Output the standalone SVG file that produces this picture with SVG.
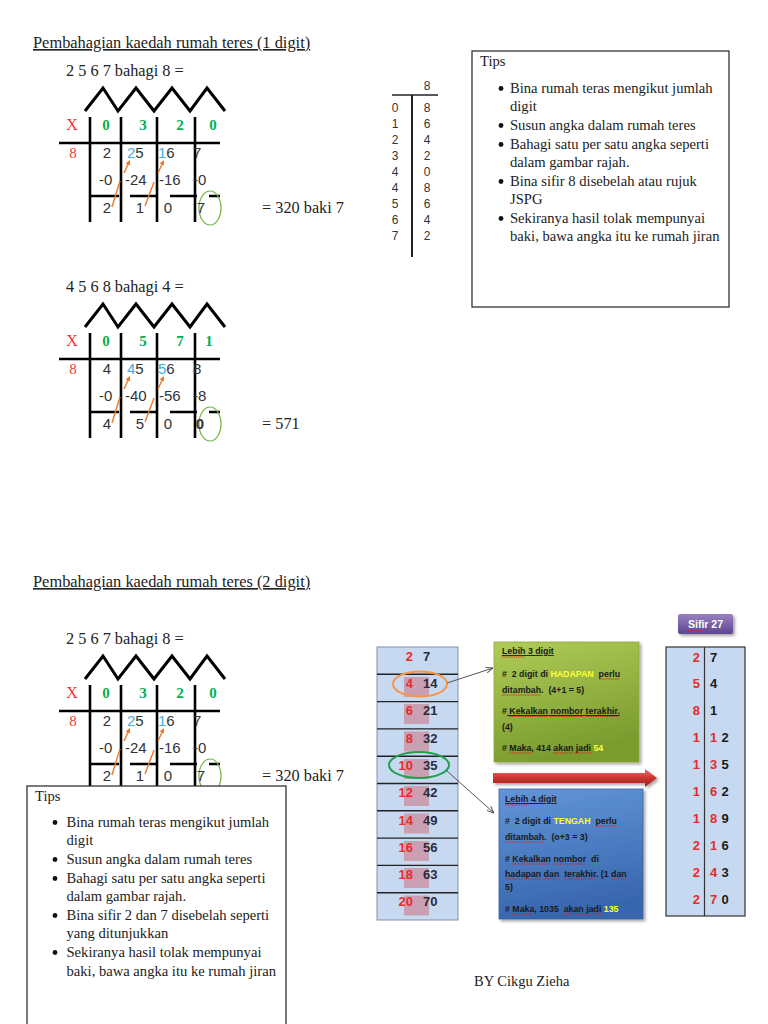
<svg xmlns="http://www.w3.org/2000/svg" width="768" height="1024" viewBox="0 0 768 1024">
<defs>
<style>
.sf{font-family:"Liberation Serif","Times New Roman",serif}
.t15{font-size:16.3px;fill:#222}
.ttl{font-size:16.4px;fill:#222}
.tip{font-family:"Liberation Serif","Times New Roman",serif;font-size:14.6px;fill:#222}
.g{font-family:"Liberation Serif","Times New Roman",serif;fill:#00B050;font-weight:bold;font-size:15px;text-anchor:middle}
.r{fill:#E8383D}
.c{fill:#3DAEE9}
.n{font-family:"Liberation Sans",Arial,sans-serif;font-size:15px;fill:#333}
.bk{stroke:#000;stroke-width:2.6;fill:none}
.zz{stroke:#000;stroke-width:3;fill:none;stroke-linejoin:miter}
.oa{stroke:#F07828;stroke-width:1.4;fill:none}
.box{fill:#fff;stroke:#333;stroke-width:1.3}
.s8{font-family:"Liberation Sans",Arial,sans-serif;font-size:12px;fill:#333;text-anchor:middle}
.tb{font-family:"Liberation Sans",Arial,sans-serif;font-size:13px;font-weight:bold}
.bx{font-family:"Liberation Sans",Arial,sans-serif;font-size:8.8px;font-weight:bold;fill:#1a1a1a;white-space:pre}
.y{fill:#FFFF33}
.sq{stroke:#E02020;stroke-width:0.9;fill:none;stroke-dasharray:1.5 0.8}
.sqg{stroke:#2EA84A;stroke-width:0.9;fill:none;stroke-dasharray:1.5 0.8}
.rowl{stroke:#222;stroke-width:1.4}
.bul{fill:#111}
</style>
<marker id="oh" viewBox="0 0 10 10" refX="8" refY="5" markerWidth="5" markerHeight="5" markerUnits="userSpaceOnUse" orient="auto"><path d="M0,0 L10,5 L0,10 z" fill="#F07828"/></marker>
<marker id="gh" viewBox="0 0 10 10" refX="10" refY="5" markerWidth="7" markerHeight="7" markerUnits="userSpaceOnUse" orient="auto"><path d="M0,1 L10,5 L0,9" fill="none" stroke="#555" stroke-width="1.4"/></marker>
<linearGradient id="gg" x1="0" y1="0" x2="0.3" y2="1"><stop offset="0" stop-color="#B0CC58"/><stop offset="1" stop-color="#7A9C2E"/></linearGradient>
<linearGradient id="bg" x1="0" y1="0" x2="0.2" y2="1"><stop offset="0" stop-color="#6296D8"/><stop offset="1" stop-color="#3866AE"/></linearGradient>
<linearGradient id="rg" x1="0" y1="0" x2="0" y2="1"><stop offset="0" stop-color="#E8706A"/><stop offset="0.5" stop-color="#C8352E"/><stop offset="1" stop-color="#A02420"/></linearGradient>
<linearGradient id="pg" x1="0" y1="0" x2="0" y2="1"><stop offset="0" stop-color="#9A82C0"/><stop offset="1" stop-color="#5C4590"/></linearGradient>
<filter id="sh" x="-10%" y="-10%" width="130%" height="130%"><feDropShadow dx="2" dy="2" stdDeviation="1.5" flood-color="#000" flood-opacity="0.35"/></filter>
<g id="frame">
<polyline class="zz" points="85,111 103,88 118,111 136,88 154,111 172,88 190,111 207,88 225,111"/>
<path class="bk" d="M90,117V222M121,117V222M157,117V222M195,117V222M59,143H220M90,196H119M130,196H158M170,196H197M209,196H220"/>
<path class="oa" d="M112,207L120,181"/><path class="oa" d="M124,173L129.5,161" marker-end="url(#oh)"/>
<path class="oa" d="M145,206L154,182"/><path class="oa" d="M158,173L163.5,161" marker-end="url(#oh)"/>
<ellipse cx="210" cy="208" rx="11" ry="17" fill="none" stroke="#6DB33F" stroke-width="1.2"/>
</g>
</defs>
<rect width="768" height="1024" fill="#fff"/>

<!-- Section 1 title -->
<text class="sf ttl" x="33" y="48" text-decoration="underline">Pembahagian kaedah rumah teres (1 digit)</text>

<!-- Division 1 -->
<g id="rumah1">
<text class="sf t15" x="66" y="76">2 5 6 7 bahagi 8 =</text>
<use href="#frame"/>
<text class="sf r" font-size="16" x="72" y="130" text-anchor="middle">X</text>
<text class="g" x="106" y="130">0</text><text class="g" x="143" y="130">3</text><text class="g" x="180" y="130">2</text><text class="g" x="213" y="130">0</text>
<text class="sf r" font-size="15" x="73" y="158" text-anchor="middle">8</text>
<text class="n" x="107" y="158" text-anchor="middle">2</text>
<text class="n" x="127" y="158"><tspan class="c">2</tspan>5</text>
<text class="n" x="158" y="158"><tspan class="c">1</tspan>6</text>
<text class="n" x="193" y="158">7</text>
<text class="n" x="99" y="185">-0</text><text class="n" x="125" y="185">-24</text><text class="n" x="159" y="185">-16</text><text class="n" x="193" y="185">-0</text>
<text class="n c" x="107" y="213" text-anchor="middle">2</text><text class="n c" x="140" y="213" text-anchor="middle">1</text><text class="n c" x="168" y="213" text-anchor="middle">0</text><text class="n c" x="201" y="213" text-anchor="middle">7</text>
<text class="sf t15" x="262" y="213">= 320 baki 7</text>
</g>

<!-- Division 2 -->
<g id="rumah2" transform="translate(0,216)">
<text class="sf t15" x="66" y="76">4 5 6 8 bahagi 4 =</text>
<use href="#frame"/>
<text class="sf r" font-size="16" x="72" y="130" text-anchor="middle">X</text>
<text class="g" x="106" y="130">0</text><text class="g" x="143" y="130">5</text><text class="g" x="180" y="130">7</text><text class="g" x="209" y="130">1</text>
<text class="sf r" font-size="15" x="73" y="158" text-anchor="middle">8</text>
<text class="n" x="107" y="158" text-anchor="middle">4</text>
<text class="n" x="127" y="158"><tspan class="c">4</tspan>5</text>
<text class="n" x="158" y="158"><tspan class="c">5</tspan>6</text>
<text class="n" x="193" y="158">8</text>
<text class="n" x="99" y="185">-0</text><text class="n" x="125" y="185">-40</text><text class="n" x="159" y="185">-56</text><text class="n" x="193" y="185">-8</text>
<text class="n c" x="107" y="213" text-anchor="middle">4</text><text class="n c" x="140" y="213" text-anchor="middle">5</text><text class="n c" x="168" y="213" text-anchor="middle">0</text><text class="n c" x="200" y="213" text-anchor="middle" font-weight="bold">0</text>
<text class="sf t15" x="262" y="213">= 571</text>
</g>

<!-- Sifir 8 -->
<g id="sifir8">
<path d="M392,95H438" stroke="#222" stroke-width="1.5"/>
<path d="M412,95V257" stroke="#222" stroke-width="2"/>
<text class="s8" x="427" y="90">8</text>
<text class="s8" x="395" y="112">0</text><text class="s8" x="427" y="112">8</text>
<text class="s8" x="395" y="128">1</text><text class="s8" x="427" y="128">6</text>
<text class="s8" x="395" y="144">2</text><text class="s8" x="427" y="144">4</text>
<text class="s8" x="395" y="160">3</text><text class="s8" x="427" y="160">2</text>
<text class="s8" x="395" y="176">4</text><text class="s8" x="427" y="176">0</text>
<text class="s8" x="395" y="192">4</text><text class="s8" x="427" y="192">8</text>
<text class="s8" x="395" y="208">5</text><text class="s8" x="427" y="208">6</text>
<text class="s8" x="395" y="224">6</text><text class="s8" x="427" y="224">4</text>
<text class="s8" x="395" y="240">7</text><text class="s8" x="427" y="240">2</text>
</g>

<!-- Tips 1 -->
<g id="tips1">
<rect class="box" x="472" y="51" width="257" height="256"/>
<text class="tip" x="480" y="66">Tips</text>
<circle class="bul" cx="501" cy="88.5" r="2.4"/><text class="tip" x="510" y="93">Bina rumah teras mengikut jumlah</text>
<text class="tip" x="510" y="111">digit</text>
<circle class="bul" cx="501" cy="125.5" r="2.4"/><text class="tip" x="510" y="130">Susun angka dalam rumah teres</text>
<circle class="bul" cx="501" cy="144.5" r="2.4"/><text class="tip" x="510" y="149">Bahagi satu per satu angka seperti</text>
<text class="tip" x="510" y="167">dalam gambar rajah.</text>
<circle class="bul" cx="501" cy="181.5" r="2.4"/><text class="tip" x="510" y="186">Bina sifir 8 disebelah atau rujuk</text>
<text class="tip" x="510" y="204">JSPG</text>
<circle class="bul" cx="501" cy="218.5" r="2.4"/><text class="tip" x="510" y="223">Sekiranya hasil tolak mempunyai</text>
<text class="tip" x="510" y="241">baki, bawa angka itu ke rumah jiran</text>
</g>

<!-- Section 2 title -->
<text class="sf ttl" x="33" y="587" text-decoration="underline">Pembahagian kaedah rumah teres (2 digit)</text>
<use id="rumah3" href="#rumah1" transform="translate(0,568)"/>

<!-- Tips 2 -->
<g id="tips2">
<rect class="box" x="27" y="786" width="259" height="250"/>
<text class="tip" x="35" y="801">Tips</text>
<circle class="bul" cx="55" cy="822.5" r="2.4"/><text class="tip" x="66.5" y="827">Bina rumah teras mengikut jumlah</text>
<text class="tip" x="66.5" y="845">digit</text>
<circle class="bul" cx="55" cy="859.5" r="2.4"/><text class="tip" x="66.5" y="864">Susun angka dalam rumah teres</text>
<circle class="bul" cx="55" cy="878.5" r="2.4"/><text class="tip" x="66.5" y="883">Bahagi satu per satu angka seperti</text>
<text class="tip" x="66.5" y="901">dalam gambar rajah.</text>
<circle class="bul" cx="55" cy="915.5" r="2.4"/><text class="tip" x="66.5" y="920">Bina sifir 2 dan 7 disebelah seperti</text>
<text class="tip" x="66.5" y="938">yang ditunjukkan</text>
<circle class="bul" cx="55" cy="952.5" r="2.4"/><text class="tip" x="66.5" y="957">Sekiranya hasil tolak mempunyai</text>
<text class="tip" x="66.5" y="976">baki, bawa angka itu ke rumah jiran</text>
</g>

<!-- Sifir 2 / 7 table -->
<g id="table27">
<rect x="377" y="647" width="81" height="273" fill="#C6D9F1" stroke="#8093AD" stroke-width="1"/>
<g fill="#C9A0B2">
<rect x="404" y="677" width="25" height="20"/><rect x="404" y="704" width="25" height="20"/><rect x="404" y="731.5" width="25" height="20"/>
<rect x="404" y="759" width="25" height="20"/><rect x="404" y="786" width="25" height="20"/><rect x="404" y="813.5" width="25" height="20"/>
<rect x="404" y="841" width="25" height="20"/><rect x="404" y="868" width="25" height="20"/><rect x="404" y="895.5" width="25" height="20"/>
</g>
<path class="rowl" d="M377,674.3H458M377,701.6H458M377,728.9H458M377,756.2H458M377,783.5H458M377,810.8H458M377,838.1H458M377,865.4H458M377,892.7H458"/>
<g class="tb" fill="#E52B2B" text-anchor="end">
<text x="413" y="661">2</text><text x="413" y="688">4</text><text x="413" y="715">6</text><text x="413" y="742.5">8</text><text x="413" y="770">10</text>
<text x="413" y="797">12</text><text x="413" y="824.5">14</text><text x="413" y="852">16</text><text x="413" y="879">18</text><text x="413" y="906">20</text>
</g>
<g class="tb" fill="#2a2a3a">
<text x="423" y="661">7</text><text x="423" y="688">14</text><text x="423" y="715">21</text><text x="423" y="742.5">32</text><text x="423" y="770">35</text>
<text x="423" y="797">42</text><text x="423" y="824.5">49</text><text x="423" y="852">56</text><text x="423" y="879">63</text><text x="423" y="906">70</text>
</g>
<ellipse cx="420" cy="684" rx="27" ry="12.5" fill="none" stroke="#F79646" stroke-width="2"/>
<ellipse cx="419" cy="765" rx="30" ry="13" fill="none" stroke="#1EA050" stroke-width="2"/>
</g>

<!-- Green box -->
<g id="box3digit">
<rect x="494" y="642" width="145" height="120" fill="url(#gg)" stroke="#8CA83C" stroke-width="0.8" filter="url(#sh)"/>
<text class="bx" x="502" y="654" text-decoration="underline">Lebih 3 digit</text>
<text class="bx" x="502" y="677">#  2 digit di <tspan class="y">HADAPAN</tspan>  perlu</text>
<text class="bx" x="502" y="693">ditambah.  (4+1 = 5)</text>
<text class="bx" x="502" y="714">#<tspan text-decoration="underline"> Kekalkan nombor terakhir.</tspan></text>
<text class="bx" x="502" y="730">(4)</text>
<text class="bx" x="502" y="751"># Maka, 414 akan jadi <tspan class="y">54</tspan></text>
<path class="sq" d="M502,657H525.5M599,679H620M502,695H541M509,716.5H548M550,716.5H583M586,716.5H618M509,753H531M553,753H573M576,753H591"/>
</g>

<!-- Blue box -->
<g id="box4digit">
<rect x="499" y="789" width="144" height="130" fill="url(#bg)" stroke="#3A64A0" stroke-width="0.8" filter="url(#sh)"/>
<text class="bx" x="505" y="802" text-decoration="underline">Lebih 4 digit</text>
<text class="bx" x="505" y="824">#  2 digit di <tspan class="y">TENGAH</tspan>  perlu</text>
<text class="bx" x="505" y="840">ditambah.  (o+3 = 3)</text>
<text class="bx" x="505" y="862"># Kekalkan nombor  di</text>
<text class="bx" x="505" y="877">hadapan dan  terakhir. (1 dan</text>
<text class="bx" x="505" y="890">5)</text>
<text class="bx" x="505" y="912"># Maka, 1035  akan jadi <tspan class="y">135</tspan></text>
<path class="sq" d="M505,805H528.5M595.5,826H617M505,842H544M512,864H551M553,864H586M505,879H541M543.5,879H559M564,879H596M611.5,879H627M512,914H534M563.5,914H584M586,914H601"/>
<path class="sqg" d="M510,826H517M591,864H599"/>
</g>

<!-- Sifir 27 -->
<g id="sifir27">
<rect x="678" y="614" width="55" height="20" rx="2" fill="url(#pg)" filter="url(#sh)"/>
<text x="705.5" y="628" text-anchor="middle" font-family="Liberation Sans, Arial, sans-serif" font-size="10.5" font-weight="bold" fill="#fff">Sifir 27</text>
<path class="sq" d="M688,630.5H702"/>
<rect x="666" y="647" width="79" height="269" fill="#C6D9F1" stroke="#333" stroke-width="1.2"/>
<path d="M704.5,647V916" stroke="#333" stroke-width="1.2"/>
<g class="tb" fill="#E52B2B" text-anchor="end">
<text x="700" y="661.5">2</text><text x="700" y="688.4">5</text><text x="700" y="715.3">8</text><text x="700" y="742.2">1</text><text x="700" y="769.1">1</text>
<text x="700" y="796">1</text><text x="700" y="822.9">1</text><text x="700" y="849.8">2</text><text x="700" y="876.7">2</text><text x="700" y="903.6">2</text>
</g>
<g class="tb" fill="#E52B2B">
<text x="710" y="742.2">1</text><text x="710" y="769.1">3</text><text x="710" y="796">6</text><text x="710" y="822.9">8</text><text x="710" y="849.8">1</text><text x="710" y="876.7">4</text><text x="710" y="903.6">7</text>
</g>
<g class="tb" fill="#1a1a1a">
<text x="710" y="661.5">7</text><text x="710" y="688.4">4</text><text x="710" y="715.3">1</text>
<text x="721.5" y="742.2">2</text><text x="721.5" y="769.1">5</text><text x="721.5" y="796">2</text><text x="721.5" y="822.9">9</text><text x="721.5" y="849.8">6</text><text x="721.5" y="876.7">3</text><text x="721.5" y="903.6">0</text>
</g>
</g>

<!-- Connectors -->
<g id="connectors">
<path d="M447,683L493,668" stroke="#555" stroke-width="1" fill="none" marker-end="url(#gh)"/>
<path d="M447,771L494,813" stroke="#555" stroke-width="1" fill="none" marker-end="url(#gh)"/>
<path d="M493,773H645V769L657,778L645,787V783H493Z" fill="url(#rg)" filter="url(#sh)"/>
</g>

<text class="sf" x="474" y="986" font-size="14.5" fill="#222">BY Cikgu Zieha</text>
</svg>
